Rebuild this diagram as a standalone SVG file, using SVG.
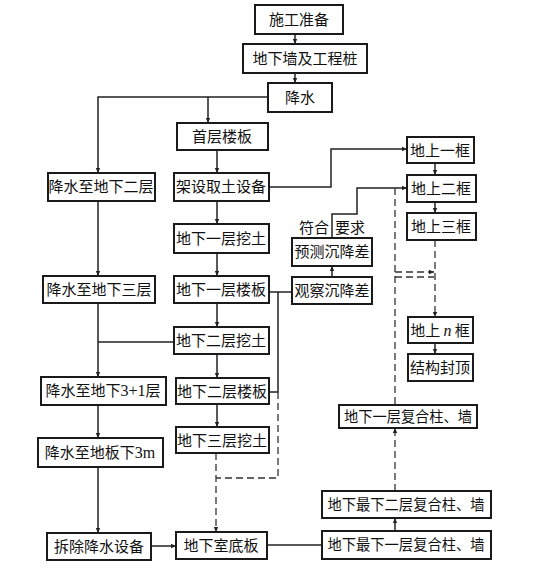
<svg xmlns="http://www.w3.org/2000/svg" width="546" height="568" viewBox="0 0 546 568">
<style>
.b{fill:#fff;stroke:#1a1a1a;stroke-width:2}
.t{font-family:"Noto Sans CJK SC","Noto Sans CJK JP",sans-serif;font-size:15px;fill:#111;text-anchor:middle}
.l{fill:none;stroke:#222;stroke-width:1.5}
.d{fill:none;stroke:#333;stroke-width:1.3;stroke-dasharray:7,4}
.lat{font-family:"Liberation Serif",serif;font-size:16px}
</style>
<defs>
<marker id="a" markerWidth="6" markerHeight="6" refX="5" refY="3" orient="auto" markerUnits="userSpaceOnUse">
<path d="M0,0.8 L5,3 L0,5.2 Z" fill="#222"/>
</marker>
</defs>
<rect width="546" height="568" fill="#fff"/>
<g id="connectors">
<path class="l" d="M295,34 V44" marker-end="url(#a)"/>
<path class="l" d="M295,73 V83" marker-end="url(#a)"/>
<path class="l" d="M268,97 H98 V173" marker-end="url(#a)"/>
<path class="l" d="M208,97 V123" marker-end="url(#a)"/>
<path class="l" d="M98,201 V276" marker-end="url(#a)"/>
<path class="l" d="M98,303 V377" marker-end="url(#a)"/>
<path class="l" d="M174,342 H98"/>
<path class="l" d="M98,405 V438" marker-end="url(#a)"/>
<path class="l" d="M98,467 V533" marker-end="url(#a)"/>
<path class="l" d="M151,546 H176" marker-end="url(#a)"/>
<path class="l" d="M267,545 H322"/>
<path class="l" d="M217,150 V173" marker-end="url(#a)"/>
<path class="l" d="M217,201 V224" marker-end="url(#a)"/>
<path class="l" d="M217,253 V276" marker-end="url(#a)"/>
<path class="l" d="M217,303 V327" marker-end="url(#a)"/>
<path class="l" d="M217,354 V378" marker-end="url(#a)"/>
<path class="l" d="M217,404 V427" marker-end="url(#a)"/>
<path class="d" d="M216,453 V532" marker-end="url(#a)"/>
<path class="l" d="M269,292 H292"/>
<path class="l" d="M278,292 V392 H269"/>
<path class="d" d="M278,392 V478 H216"/>
<path class="l" d="M332,277 V266" marker-end="url(#a)"/>
<path class="l" d="M269,187 H331 V149 H407" marker-end="url(#a)"/>
<path class="l" d="M332,238 V214 H357 V188 H407" marker-end="url(#a)"/>
<path class="l" d="M435,163 V175" marker-end="url(#a)"/>
<path class="l" d="M435,202 V213" marker-end="url(#a)"/>
<path class="d" d="M435,240 V317" marker-end="url(#a)"/>
<path class="d" d="M395,272 H434" marker-end="url(#a)"/>
<path class="d" d="M395,277 H434"/>
<path class="l" d="M435,343 V354" marker-end="url(#a)"/>
<path class="d" d="M395,188 V405"/>
<path class="d" d="M395,491 V428" marker-end="url(#a)"/>
<path class="l" d="M395,531 V518" marker-end="url(#a)"/>
</g>
<g id="n1"><rect class="b" x="255" y="5" width="88" height="29"/><text class="t" x="299" y="25">施工准备</text></g>
<g id="n2"><rect class="b" x="243" y="44" width="124" height="29"/><text class="t" x="305" y="64">地下墙及工程桩</text></g>
<g id="n3"><rect class="b" x="268" y="83" width="64" height="29"/><text class="t" x="300" y="103">降水</text></g>
<g id="n4"><rect class="b" x="177" y="123" width="91" height="27"/><text class="t" x="222" y="142">首层楼板</text></g>
<g id="n5"><rect class="b" x="174" y="173" width="95" height="28"/><text class="t" x="221" y="192">架设取土设备</text></g>
<g id="n6"><rect class="b" x="174" y="224" width="95" height="29"/><text class="t" x="221" y="244">地下一层挖土</text></g>
<g id="n7"><rect class="b" x="174" y="276" width="95" height="27"/><text class="t" x="221" y="295">地下一层楼板</text></g>
<g id="n8"><rect class="b" x="174" y="327" width="95" height="27"/><text class="t" x="221" y="346">地下二层挖土</text></g>
<g id="n9"><rect class="b" x="176" y="378" width="93" height="26"/><text class="t" x="222" y="397">地下二层楼板</text></g>
<g id="n10"><rect class="b" x="176" y="427" width="93" height="26"/><text class="t" x="222" y="446">地下三层挖土</text></g>
<g id="n11"><rect class="b" x="176" y="532" width="91" height="27"/><text class="t" x="221" y="551">地下室底板</text></g>
<g id="n12"><rect class="b" x="48" y="173" width="107" height="28"/><text class="t" x="101" y="192">降水至地下二层</text></g>
<g id="n13"><rect class="b" x="43" y="276" width="112" height="27"/><text class="t" x="99" y="295">降水至地下三层</text></g>
<g id="n14"><rect class="b" x="41" y="377" width="125" height="28"/><text class="t" x="103" y="396">降水至地下<tspan class="lat">3+1</tspan>层</text></g>
<g id="n15"><rect class="b" x="38" y="438" width="125" height="29"/><text class="t" x="100" y="458">降水至地板下<tspan class="lat">3m</tspan></text></g>
<g id="n16"><rect class="b" x="47" y="533" width="104" height="27"/><text class="t" x="99" y="552">拆除降水设备</text></g>
<g id="n17"><rect class="b" x="407" y="137" width="67" height="26"/><text class="t" x="440" y="156">地上一框</text></g>
<g id="n18"><rect class="b" x="407" y="175" width="69" height="27"/><text class="t" x="441" y="194">地上二框</text></g>
<g id="n19"><rect class="b" x="407" y="213" width="69" height="27"/><text class="t" x="441" y="232">地上三框</text></g>
<g id="n20"><rect class="b" x="408" y="317" width="65" height="26"/><text class="t" x="440" y="336">地上 <tspan class="lat" font-style="italic">n</tspan> 框</text></g>
<g id="n21"><rect class="b" x="408" y="354" width="65" height="27"/><text class="t" x="440" y="373">结构封顶</text></g>
<g id="n22"><rect class="b" x="292" y="238" width="80" height="28"/><text class="t" x="332" y="257">预测沉降差</text></g>
<g id="n23"><rect class="b" x="292" y="277" width="80" height="27"/><text class="t" x="332" y="296">观察沉降差</text></g>
<g id="n24"><rect class="b" x="339" y="405" width="138" height="23"/><text class="t" x="408" y="422" textLength="128" lengthAdjust="spacingAndGlyphs">地下一层复合柱、墙</text></g>
<g id="n25"><rect class="b" x="322" y="491" width="169" height="27"/><text class="t" x="406" y="510" textLength="157" lengthAdjust="spacingAndGlyphs">地下最下二层复合柱、墙</text></g>
<g id="n26"><rect class="b" x="322" y="531" width="169" height="28"/><text class="t" x="406" y="550" textLength="157" lengthAdjust="spacingAndGlyphs">地下最下一层复合柱、墙</text></g>
<g id="lbl"><text class="t" x="314" y="233">符合</text><text class="t" x="350" y="233">要求</text></g>
</svg>
